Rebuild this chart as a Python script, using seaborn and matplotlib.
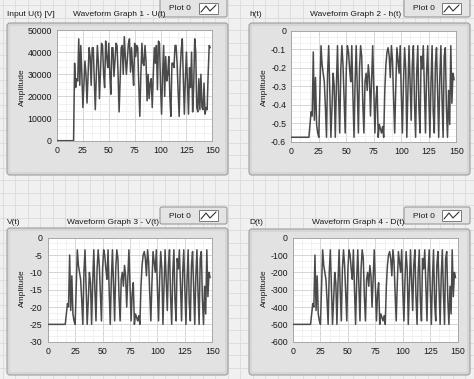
import numpy as np
import matplotlib
matplotlib.use("Agg")
import matplotlib.pyplot as plt
import seaborn as sns
from matplotlib.patches import FancyBboxPatch, Rectangle
from matplotlib.ticker import AutoMinorLocator

# ---------------- data ----------------
u_values = [0] * 17 + [
    35000, 24000, 28000, 27000, 46000, 25000, 43000, 30000, 15000, 26000,
    36000, 30000, 17000, 29000, 42000, 38000, 25000, 42000, 42000, 28000,
    14000, 30000, 43000, 35000, 19000, 32000, 44000, 43000, 30000, 24000,
    45000, 38000, 33000, 44000, 30000, 21000, 42000, 42000, 29000, 36000,
    44000, 43000, 30000, 13000, 28000, 42000, 43000, 30000, 47000, 38000,
    30000, 37000, 44000, 46000, 31000, 42000, 33000, 25000, 44000, 38000,
    43000, 42000, 25000, 11000, 30000, 44000, 35000, 34000, 43000, 36000,
    18000, 30000, 19000, 26000, 28000, 15000, 30000, 42000, 35000, 43000,
    23000, 45000, 44000, 25000, 12000, 30000, 43000, 20000, 38000, 27000,
    30000, 38000, 20000, 11000, 35000, 35000, 33000, 43000, 43000, 35000,
    22000, 11000, 32000, 41000, 46000, 28000, 12000, 28000, 40000, 26000,
    12000, 33000, 24000, 40000, 13000, 24000, 46000, 40000, 15000, 13000,
    28000, 14000, 30000, 15000, 14000, 26000, 12000, 15000, 14000, 30000,
    43000, 42000]

h_values = [-0.576] * 17 + [
    -0.507, -0.438, -0.461, -0.115, -0.484, -0.253, -0.507, -0.553, -0.576, -0.323,
    -0.081, -0.184, -0.230, -0.276, -0.415, -0.576, -0.230, -0.081, -0.323, -0.576,
    -0.415, -0.230, -0.300, -0.576, -0.300, -0.081, -0.346, -0.553, -0.207, -0.081,
    -0.184, -0.369, -0.553, -0.207, -0.081, -0.115, -0.207, -0.276, -0.081, -0.346,
    -0.576, -0.276, -0.081, -0.323, -0.553, -0.207, -0.081, -0.138, -0.392, -0.553,
    -0.276, -0.230, -0.323, -0.184, -0.253, -0.461, -0.276, -0.081, -0.323, -0.553,
    -0.369, -0.300, -0.576, -0.507, -0.530, -0.553, -0.518, -0.576, -0.323, -0.184,
    -0.115, -0.092, -0.138, -0.253, -0.081, -0.161, -0.369, -0.553, -0.300, -0.092,
    -0.161, -0.230, -0.081, -0.346, -0.553, -0.276, -0.092, -0.207, -0.576, -0.323,
    -0.081, -0.276, -0.484, -0.184, -0.081, -0.392, -0.576, -0.230, -0.081, -0.415,
    -0.553, -0.138, -0.207, -0.081, -0.323, -0.553, -0.230, -0.081, -0.346, -0.576,
    -0.276, -0.081, -0.438, -0.553, -0.184, -0.092, -0.346, -0.576, -0.253, -0.081,
    -0.369, -0.576, -0.138, -0.092, -0.415, -0.576, -0.323, -0.507, -0.081, -0.392,
    -0.230, -0.265]

v_values = [-25] * 17 + [
    -22, -19, -20, -5, -21, -11, -22, -24, -25, -14,
    -3.5, -8, -10, -12, -18, -25, -10, -3.5, -14, -25,
    -18, -10, -13, -25, -13, -3.5, -15, -24, -9, -3.5,
    -8, -16, -24, -9, -3.5, -5, -9, -12, -3.5, -15,
    -25, -12, -3.5, -14, -24, -9, -3.5, -6, -17, -24,
    -12, -10, -14, -8, -11, -20, -12, -3.5, -14, -24,
    -16, -13, -25, -22, -23, -24, -22.5, -25, -14, -8,
    -5, -4, -6, -11, -3.5, -7, -16, -24, -13, -4,
    -7, -10, -3.5, -15, -24, -12, -4, -9, -25, -14,
    -3.5, -12, -21, -8, -3.5, -17, -25, -10, -3.5, -18,
    -24, -6, -9, -3.5, -14, -24, -10, -3.5, -15, -25,
    -12, -3.5, -19, -24, -8, -4, -15, -25, -11, -3.5,
    -16, -25, -6, -4, -18, -25, -14, -22, -3.5, -17,
    -10, -11.5]

d_values = [-500] * 17 + [
    -440, -380, -400, -100, -420, -220, -440, -480, -500, -280,
    -70, -160, -200, -240, -360, -500, -200, -70, -280, -500,
    -360, -200, -260, -500, -260, -70, -300, -480, -180, -70,
    -160, -320, -480, -180, -70, -100, -180, -240, -70, -300,
    -500, -240, -70, -280, -480, -180, -70, -120, -340, -480,
    -240, -200, -280, -160, -220, -400, -240, -70, -280, -480,
    -320, -260, -500, -440, -460, -480, -450, -500, -280, -160,
    -100, -80, -120, -220, -70, -140, -320, -480, -260, -80,
    -140, -200, -70, -300, -480, -240, -80, -180, -500, -280,
    -70, -240, -420, -160, -70, -340, -500, -200, -70, -360,
    -480, -120, -180, -70, -280, -480, -200, -70, -300, -500,
    -240, -70, -380, -480, -160, -80, -300, -500, -220, -70,
    -320, -500, -120, -80, -360, -500, -280, -440, -70, -340,
    -200, -230]

x_ticks = [0, 25, 50, 75, 100, 125, 150]
u_ticks = [0, 10000, 20000, 30000, 40000, 50000]
h_ticks = [0, -0.1, -0.2, -0.3, -0.4, -0.5, -0.6]
v_ticks = [0, -5, -10, -15, -20, -25, -30]
d_ticks = [0, -100, -200, -300, -400, -500, -600]

name_labels = ["Input U(t) [V]", "h(t)", "V(t)", "D(t)"]
titles = ["Waveform Graph 1 - U(t)", "Waveform Graph 2 - h(t)",
          "Waveform Graph 3 - V(t)", "Waveform Graph 4 - D(t)"]
legend_text = "Plot 0"
y_label = "Amplitude"

# ---------------- figure ----------------
sns.set_style("white")
plt.rcParams["font.family"] = ["Liberation Sans", "DejaVu Sans"]

W, H = 474, 379
fig = plt.figure(figsize=(W / 100, H / 100), dpi=100)
fig.patch.set_facecolor("#eeeeee")

bg = fig.add_axes([0, 0, 1, 1])
bg.set_xlim(0, W)
bg.set_ylim(H, 0)
bg.axis("off")
bg.add_patch(Rectangle((0, 0), W, H, facecolor="#f0f0f0", edgecolor="none", zorder=0))
for gx in np.arange(3, W, 12.5):
    bg.plot([gx, gx], [0, H], color="#dadada", lw=0.6, zorder=1)
for gy in np.arange(5, H, 12.5):
    bg.plot([0, W], [gy, gy], color="#dadada", lw=0.6, zorder=1)

frames = [(7, 23, 228, 175), (249, 23, 470, 175), (7, 228, 228, 375), (249, 229, 470, 375)]
plots = [(57, 30, 212.3, 140.7), (291.3, 30.7, 456.3, 141.7),
         (47.7, 237.7, 212.3, 341.7), (293, 237.7, 457.7, 341.7)]
label_pos = [(7, 14), (249, 14), (7, 222), (249, 222)]
title_pos = [(73, 14), (310, 14), (67, 222), (312, 222)]
legend_box = [(160, -6, 227, 17), (404, -6, 470, 17), (160, 207, 227, 224), (404, 207, 470, 224)]
ylabel_pos = [(22, 87), (264, 87), (22, 288), (264, 288)]

series = [u_values, h_values, v_values, d_values]
yticks = [u_ticks, h_ticks, v_ticks, d_ticks]
ylims = [(0, 50000), (-0.6, 0), (-30, 0), (-600, 0)]
ytick_fmt = [lambda v: f"{int(v)}", lambda v: "0" if v == 0 else f"{v:.1f}",
             lambda v: f"{int(v)}", lambda v: f"{int(v)}"]

FS = 6.0
for i in range(4):
    x0, y0, x1, y1 = frames[i]
    bg.add_patch(FancyBboxPatch((x0, y0), x1 - x0, y1 - y0,
                                boxstyle="round,pad=0,rounding_size=3",
                                facecolor="#d6d6d6", edgecolor="#9e9e9e", lw=0.8, zorder=2))
    bg.add_patch(FancyBboxPatch((x0 + 3, y0 + 3), x1 - x0 - 6, y1 - y0 - 6,
                                boxstyle="round,pad=0,rounding_size=2",
                                facecolor="#e2e2e2", edgecolor="none", zorder=2))
    lx, ly = label_pos[i]
    bg.text(lx, ly, name_labels[i], fontsize=FS, ha="left", va="center", color="#1a1a1a", zorder=5)
    tx, ty = title_pos[i]
    bg.text(tx, ty, titles[i], fontsize=FS, ha="left", va="center", color="#1a1a1a", zorder=5)
    bx0, by0, bx1, by1 = legend_box[i]
    bg.add_patch(FancyBboxPatch((bx0, by0), bx1 - bx0, by1 - by0,
                                boxstyle="round,pad=0,rounding_size=2",
                                facecolor="#e4e4e4", edgecolor="#9a9a9a", lw=0.8, zorder=3))
    bg.text(bx0 + 9, (max(by0, 0) + by1) / 2 + 0.5, legend_text, fontsize=FS,
            ha="left", va="center", color="#1a1a1a", zorder=5)
    ix0, ix1 = bx1 - 28, bx1 - 9
    iy0, iy1 = by1 - 14, by1 - 3
    bg.add_patch(Rectangle((ix0, iy0), ix1 - ix0, iy1 - iy0, facecolor="white",
                           edgecolor="#7a7a7a", lw=0.7, zorder=4))
    bg.plot([ix0 + 2, ix0 + 7, ix0 + 11, ix1 - 2], [iy1 - 2, iy0 + 3, iy1 - 3, iy0 + 2],
            color="#333333", lw=0.8, zorder=5)
    yx, yy = ylabel_pos[i]
    bg.text(yx, yy, y_label, fontsize=FS, rotation=90, ha="center", va="center",
            color="#1a1a1a", zorder=5)

    px0, py0, px1, py1 = plots[i]
    ax = fig.add_axes([px0 / W, 1 - py1 / H, (px1 - px0) / W, (py1 - py0) / H])
    vals = series[i]
    t = np.arange(len(vals))
    sns.lineplot(x=t, y=vals, ax=ax, color="#4a4a4a", lw=1.1, zorder=3)
    ax.set_xlim(0, 150)
    ax.set_ylim(*ylims[i])
    ax.set_facecolor("white")
    ax.set_xticks(x_ticks)
    ax.set_xticklabels([str(v) for v in x_ticks])
    ax.set_yticks(yticks[i])
    ax.set_yticklabels([ytick_fmt[i](v) for v in yticks[i]])
    ax.xaxis.set_minor_locator(AutoMinorLocator(3))
    ax.yaxis.set_minor_locator(AutoMinorLocator(3))
    ax.grid(True, which="major", color="#cfcfcf", lw=0.6)
    ax.grid(True, which="minor", color="#ebebeb", lw=0.5)
    ax.set_axisbelow(True)
    ax.tick_params(axis="both", which="major", direction="out", length=2.5, width=0.7,
                   color="#555555", labelsize=FS + 0.3, labelcolor="#1a1a1a", pad=1.2)
    ax.tick_params(axis="both", which="minor", length=0)
    ax.set_xlabel("")
    ax.set_ylabel("")
    for s in ax.spines.values():
        s.set_color("#a0a0a0")
        s.set_linewidth(0.6)

fig.savefig("out.png", dpi=100)
